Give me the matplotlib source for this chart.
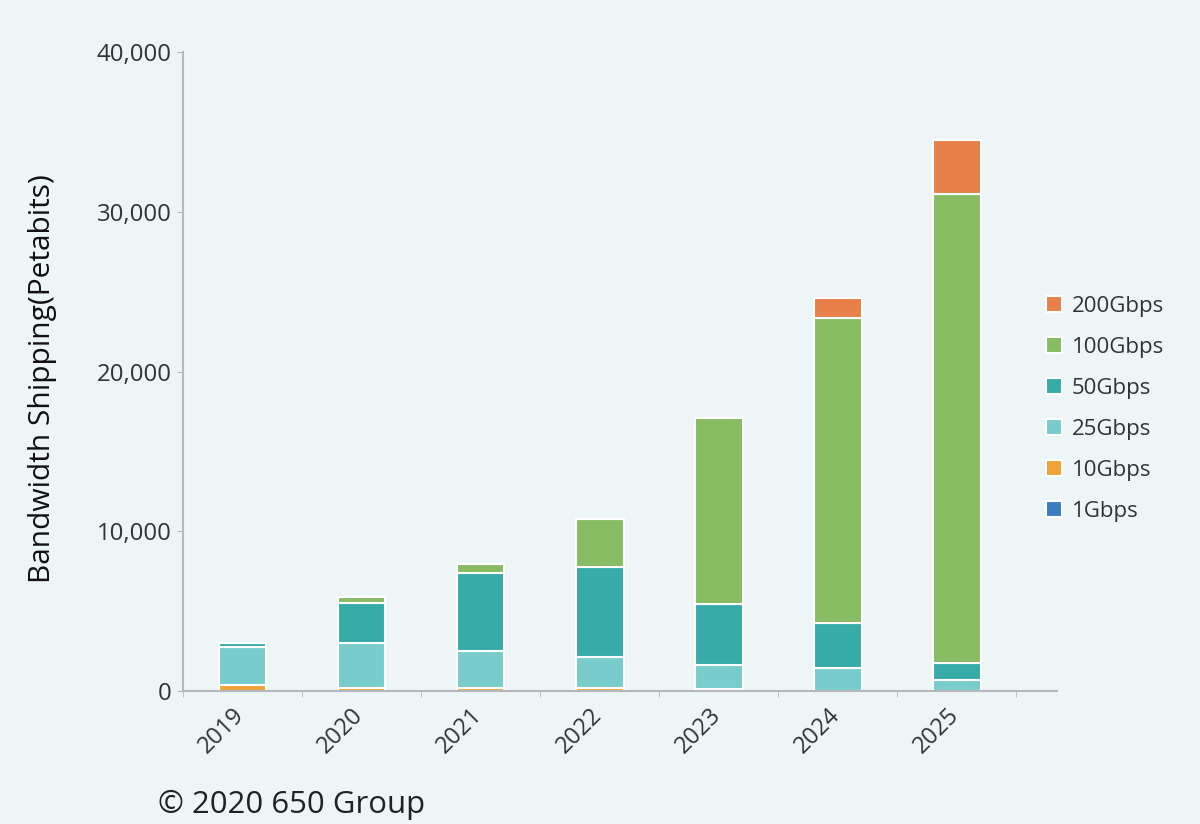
import numpy as np
import matplotlib.pyplot as plt
import matplotlib.transforms as mtransforms

plt.rcParams['font.family'] = ['Open Sans', 'DejaVu Sans']

years = ['2019', '2020', '2021', '2022', '2023', '2024', '2025']
series_names = ['1Gbps', '10Gbps', '25Gbps', '50Gbps', '100Gbps', '200Gbps']
g1 = [0, 0, 0, 0, 100, 0, 0]
g10 = [350, 200, 200, 200, 0, 0, 0]
g25 = [2400, 2800, 2300, 1930, 1500, 1440, 690]
g50 = [250, 2500, 4880, 5630, 3820, 2820, 1060]
g100 = [0, 380, 570, 3000, 11640, 19100, 29360]
g200 = [0, 0, 0, 0, 0, 1250, 3380]
colors = ['#3b7fc0', '#f0a234', '#78cccb', '#37aba8', '#88bc62', '#e8804a']

bg = '#edf5f7'
fig = plt.figure(figsize=(12, 8.24), dpi=100, facecolor=bg)
ax = fig.add_axes([0.1525, 0.1614, 0.7283, 0.7755], facecolor=bg)

x = np.arange(len(years))
bottom = np.zeros(len(years))
handles = []
for name, vals, c in zip(series_names, [g1, g10, g25, g50, g100, g200], colors):
    vals = np.array(vals, dtype=float)
    b = ax.bar(x, vals, 0.40, bottom=bottom, color=c, edgecolor='white',
               linewidth=1.5, label=name)
    handles.append(b)
    bottom += vals

ax.set_xlim(-0.5, 6.84)
ax.set_ylim(0, 40000)
ax.set_yticks(np.arange(0, 40001, 10000))
ax.set_yticklabels([f'{v:,}' for v in range(0, 40001, 10000)], fontsize=17.3, color='#333333')
ax.set_xticks(x)
ax.set_xticklabels(years, rotation=45, ha='right', rotation_mode='anchor',
                   fontsize=17, color='#333333')
ax.tick_params(axis='x', length=0, pad=9)
offset = mtransforms.ScaledTranslation(-10 / 100, 0, fig.dpi_scale_trans)
for lab in ax.get_xticklabels():
    lab.set_transform(lab.get_transform() + offset)
ax.set_xticks(np.arange(-0.5, 7, 1), minor=True)
ax.tick_params(axis='x', which='minor', length=4, color='#b5b8bc')
ax.tick_params(axis='y', length=4, color='#b5b8bc', pad=4)

for s in ['top', 'right']:
    ax.spines[s].set_visible(False)
for s in ['left', 'bottom']:
    ax.spines[s].set_color('#b5b8bc')
    ax.spines[s].set_linewidth(1.5)

ax.set_ylabel('Bandwidth Shipping(Petabits)', fontsize=21.5, color='#111111')
ax.yaxis.set_label_coords(-0.144, 0.489)

leg = ax.legend(handles[::-1], series_names[::-1], loc='center left',
                bbox_to_anchor=(0.965, 0.442), frameon=False, fontsize=16,
                handlelength=0.7, handleheight=0.7, handletextpad=0.45,
                labelspacing=0.9)
for t in leg.get_texts():
    t.set_color('#333333')

fig.text(0.132, 0.013, '\u00a9 2020 650 Group', fontsize=22.4, color='#222222')

fig.savefig('out.png', dpi=100, facecolor=bg)
